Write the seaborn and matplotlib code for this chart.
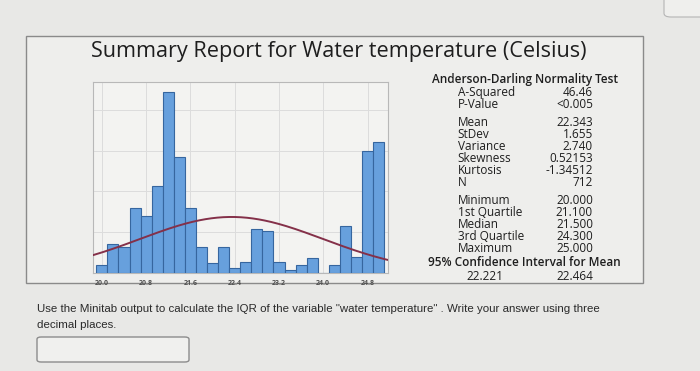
import numpy as np
import pandas as pd
import matplotlib
matplotlib.use("Agg")
import matplotlib.pyplot as plt
from matplotlib.patches import Rectangle, FancyBboxPatch
import seaborn as sns

# ---------------- data ----------------
bin_centers = [20.0, 20.2, 20.4, 20.6, 20.8, 21.0, 21.2, 21.4, 21.6, 21.8,
               22.0, 22.2, 22.4, 22.6, 22.8, 23.0, 23.2, 23.4, 23.6, 23.8,
               24.0, 24.2, 24.4, 24.6, 24.8, 25.0]
bin_counts = [5, 18, 16, 40, 35, 53, 111, 71, 40, 16,
              6, 16, 3, 7, 27, 26, 7, 2, 5, 9,
              0, 5, 29, 10, 75, 80]
x_ticks = [20.0, 20.8, 21.6, 22.4, 23.2, 24.0, 24.8]
x_tick_labels = ["20.0", "20.8", "21.6", "22.4", "23.2", "24.0", "24.8"]
y_grid = [25, 50, 75, 100]

title = "Summary Report for Water temperature (Celsius)"
test_title = "Anderson-Darling Normality Test"
stat_groups = [
    [("A-Squared", "46.46"), ("P-Value", "<0.005")],
    [("Mean", "22.343"), ("StDev", "1.655"), ("Variance", "2.740"),
     ("Skewness", "0.52153"), ("Kurtosis", "-1.34512"), ("N", "712")],
    [("Minimum", "20.000"), ("1st Quartile", "21.100"), ("Median", "21.500"),
     ("3rd Quartile", "24.300"), ("Maximum", "25.000")],
]
ci_title = "95% Confidence Interval for Mean"
ci_values = ["22.221", "22.464"]
mean_val = 22.343
stdev_val = 1.655
n_val = 712
bin_width = 0.2

question_lines = ['Use the Minitab output to calculate the IQR of the variable "water temperature" . '
                  'Write your answer using three',
                  'decimal places.']

# ---------------- figure ----------------
sns.set_theme(style="white")
plt.rcParams['font.family'] = ['Open Sans', 'DejaVu Sans']

W, H = 700, 371
fig = plt.figure(figsize=(7.0, 3.71), dpi=100)
fig.patch.set_facecolor('#e8e8e6')

def fx(px):
    return px / W

def fy(py):
    return 1 - py / H

# report frame
fig.patches.append(Rectangle((fx(26), fy(283)), fx(643) - fx(26), fy(36) - fy(283),
                             transform=fig.transFigure, facecolor='#eeeeec',
                             edgecolor='#8a8a8a', linewidth=1.0, zorder=-5))
# partial button at top right
fig.patches.append(FancyBboxPatch((fx(664), fy(17)), fx(740) - fx(664), fy(-10) - fy(17),
                                  boxstyle="round,pad=0,rounding_size=0.01",
                                  transform=fig.transFigure, facecolor='#efefed',
                                  edgecolor='#b5b5b5', linewidth=0.8, zorder=-5))

# histogram axes
ax = fig.add_axes([fx(93), fy(273), fx(388) - fx(93), fy(82) - fy(273)])
ax.set_zorder(2)
ax.set_facecolor('#f3f3f1')
df = pd.DataFrame({"temp": bin_centers, "count": bin_counts})
sns.histplot(data=df, x="temp", weights="count", binwidth=bin_width,
             binrange=(bin_centers[0] - bin_width / 2, bin_centers[-1] + bin_width / 2),
             ax=ax, color='#67a0dd', edgecolor='#36669f', linewidth=0.8, alpha=1.0,
             zorder=3)

xlim = (19.84, 25.17)
xs = np.linspace(xlim[0], xlim[1], 300)
ys = n_val * bin_width / (stdev_val * np.sqrt(2 * np.pi)) * np.exp(-0.5 * ((xs - mean_val) / stdev_val) ** 2)
sns.lineplot(x=xs, y=ys, ax=ax, color='#843049', linewidth=1.4, zorder=4)

ax.set_xlim(*xlim)
ax.set_ylim(0, 117)
ax.set_xticks(x_ticks)
ax.set_xticklabels(x_tick_labels, fontsize=5, color='#505050', fontweight='bold')
ax.set_yticks(y_grid)
ax.set_yticklabels([])
ax.tick_params(axis='y', length=0)
ax.tick_params(axis='x', length=2, width=0.6, color='#666666', pad=3)
ax.grid(True, color='#dcdcdc', linewidth=0.7, zorder=0)
ax.set_axisbelow(True)
ax.set_xlabel("")
ax.set_ylabel("")
for s in ax.spines.values():
    s.set_color('#b8b8b8')
    s.set_linewidth(0.8)

# title
fig.text(fx(91), fy(52), title, fontsize=15.6, color='#1e1e1e',
         ha='left', va='center', family=['Open Sans', 'DejaVu Sans'])

# stats
txt_kw = dict(fontsize=8.5, color='#1e1e1e', va='center',
              family=['Open Sans', 'DejaVu Sans'])
fig.text(fx(524.5), fy(79), test_title, ha='center', fontweight='semibold', **txt_kw)
label_x = fx(457.5)
value_x = fx(593)
group_starts = [92.3, 122.7, 200.7]
step = 11.9
for start, grp in zip(group_starts, stat_groups):
    for i, (lab, val) in enumerate(grp):
        y = fy(start + i * step)
        fig.text(label_x, y, lab, ha='left', **txt_kw)
        fig.text(value_x, y, val, ha='right', **txt_kw)
fig.text(fx(524.5), fy(263), ci_title, ha='center', fontweight='semibold', **txt_kw)
fig.text(fx(466.5), fy(276.7), ci_values[0], ha='left', **txt_kw)
fig.text(value_x, fy(276.7), ci_values[1], ha='right', **txt_kw)

# question text
for i, line in enumerate(question_lines):
    fig.text(fx(37), fy(309 + i * 16), line, ha='left', va='center', fontsize=8.25,
             color='#2a2a2a', family=['Liberation Sans', 'DejaVu Sans'])
# answer box
fig.patches.append(FancyBboxPatch((fx(37), fy(362)), fx(189) - fx(37), fy(337) - fy(362),
                                  boxstyle="round,pad=0,rounding_size=0.006",
                                  transform=fig.transFigure, facecolor='#f0f0ee',
                                  edgecolor='#8c8c8c', linewidth=1.0))

fig.savefig("out.png", dpi=100, facecolor=fig.get_facecolor())
